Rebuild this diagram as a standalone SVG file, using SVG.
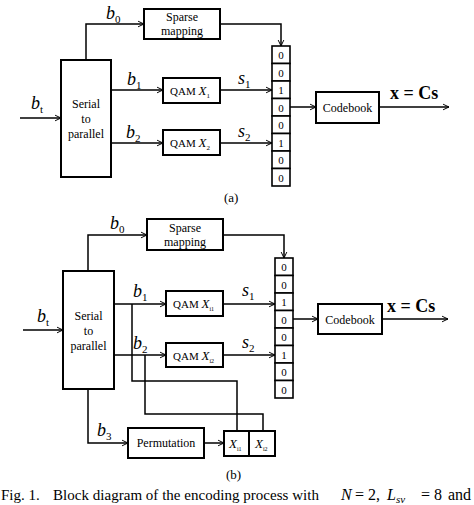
<svg xmlns="http://www.w3.org/2000/svg" width="474" height="505" viewBox="0 0 474 505">
<style>
.box{fill:#fff;stroke:#000;stroke-width:2}
.cell{fill:#fff;stroke:#000;stroke-width:1.6}
.ln{fill:none;stroke:#000;stroke-width:1.5}
.arr{marker-end:url(#ah)}
text{font-family:"Liberation Serif","Times New Roman",serif;fill:#000}
.t{font-size:12px;text-anchor:middle}
.d{font-size:11px;text-anchor:middle}
.v{font-size:18px;font-style:italic}
.sub{font-size:11px;font-style:normal}
.eq{font-size:18px;font-weight:bold}
.cap{font-size:16px}
</style>
<defs>
<marker id="ah" markerUnits="userSpaceOnUse" viewBox="0 0 10 10" refX="9.5" refY="5" markerWidth="7" markerHeight="9" orient="auto">
<path d="M1,1 L9.5,5 L1,9" fill="none" stroke="#000" stroke-width="1.4"/>
</marker>
</defs>

<!-- (a) -->
<g id="a-connectors">
<path class="ln arr" d="M20,118 H61"/>
<path class="ln arr" d="M86,60 V24 H144"/>
<path class="ln arr" d="M111,90 H163"/>
<path class="ln arr" d="M111,143 H163"/>
<path class="ln arr" d="M220,24 H281 V46"/>
<path class="ln arr" d="M220,90 H272"/>
<path class="ln arr" d="M220,143 H272"/>
<path class="ln arr" d="M290,107 H316"/>
<path class="ln arr" d="M379,107 H449"/>
</g>
<g id="a-labels">
<text class="v" x="106" y="19">b<tspan class="sub" dy="4">0</tspan></text>
<text class="v" x="31" y="109">b<tspan class="sub" dy="4">t</tspan></text>
<text class="v" x="127" y="85">b<tspan class="sub" dy="4">1</tspan></text>
<text class="v" x="126" y="138">b<tspan class="sub" dy="4">2</tspan></text>
<text class="v" x="238" y="84">s<tspan class="sub" dy="4">1</tspan></text>
<text class="v" x="238" y="137">s<tspan class="sub" dy="4">2</tspan></text>
<text class="eq" x="390" y="99">x = Cs</text>
<text x="224" y="202" style="font-size:13px">(a)</text>
</g>
<g id="a-s2p"><rect class="box" x="61" y="60" width="50" height="117"/>
<text class="t" x="86" y="108">Serial</text><text class="t" x="86" y="123">to</text><text class="t" x="86" y="138">parallel</text></g>
<g id="a-sparse"><rect class="box" x="144" y="9" width="76" height="30"/>
<text class="t" x="182" y="21">Sparse</text><text class="t" x="182" y="35">mapping</text></g>
<g id="a-qam1"><rect class="box" x="163" y="78" width="57" height="25"/>
<text x="170" y="95" style="font-size:11px">QAM <tspan style="font-style:italic;font-size:13px">X</tspan><tspan style="font-size:7px" dy="3">1</tspan></text></g>
<g id="a-qam2"><rect class="box" x="163" y="130" width="57" height="25"/>
<text x="170" y="147" style="font-size:11px">QAM <tspan style="font-style:italic;font-size:13px">X</tspan><tspan style="font-size:7px" dy="3">2</tspan></text></g>
<g id="a-vector">
<rect class="cell" x="272" y="46" width="18" height="17.5"/>
<rect class="cell" x="272" y="63.5" width="18" height="17.5"/>
<rect class="cell" x="272" y="81" width="18" height="17.5"/>
<rect class="cell" x="272" y="98.5" width="18" height="17.5"/>
<rect class="cell" x="272" y="116" width="18" height="17.5"/>
<rect class="cell" x="272" y="133.5" width="18" height="17.5"/>
<rect class="cell" x="272" y="151" width="18" height="17.5"/>
<rect class="cell" x="272" y="168.5" width="18" height="17.5"/>
<text class="d" x="281" y="59">0</text><text class="d" x="281" y="76.5">0</text><text class="d" x="281" y="94">1</text><text class="d" x="281" y="111.5">0</text>
<text class="d" x="281" y="129">0</text><text class="d" x="281" y="146.5">1</text><text class="d" x="281" y="164">0</text><text class="d" x="281" y="181.5">0</text>
</g>
<g id="a-codebook"><rect class="box" x="316" y="92" width="63" height="31"/>
<text class="t" x="347.5" y="112">Codebook</text></g>

<!-- (b) -->
<g id="b-connectors">
<path class="ln arr" d="M23,330 H63"/>
<path class="ln arr" d="M88,271 V235 H147"/>
<path class="ln arr" d="M114,304 H166"/>
<path class="ln arr" d="M114,355 H166"/>
<path class="ln arr" d="M223,235 H284 V258"/>
<path class="ln arr" d="M223,304 H275"/>
<path class="ln arr" d="M223,355 H275"/>
<path class="ln arr" d="M293,319 H318"/>
<path class="ln arr" d="M382,319 H448"/>
<path class="ln" d="M132,304 V381 H237 V431"/>
<path class="ln" d="M145,355 V414 H263 V431"/>
<path class="ln arr" d="M88,389 V443 H128"/>
<path class="ln arr" d="M204,443 H224"/>
</g>
<g id="b-labels">
<text class="v" x="110" y="229">b<tspan class="sub" dy="4">0</tspan></text>
<text class="v" x="37" y="322">b<tspan class="sub" dy="4">t</tspan></text>
<text class="v" x="133" y="297">b<tspan class="sub" dy="4">1</tspan></text>
<text class="v" x="133" y="349">b<tspan class="sub" dy="4">2</tspan></text>
<text class="v" x="97" y="436">b<tspan class="sub" dy="4">3</tspan></text>
<text class="v" x="242" y="296">s<tspan class="sub" dy="4">1</tspan></text>
<text class="v" x="242" y="348">s<tspan class="sub" dy="4">2</tspan></text>
<text class="eq" x="387" y="312">x = Cs</text>
<text x="226" y="479" style="font-size:13px">(b)</text>
</g>
<g id="b-s2p"><rect class="box" x="63" y="271" width="51" height="118"/>
<text class="t" x="88.5" y="320">Serial</text><text class="t" x="88.5" y="335">to</text><text class="t" x="88.5" y="350">parallel</text></g>
<g id="b-sparse"><rect class="box" x="147" y="219" width="76" height="31"/>
<text class="t" x="185" y="232">Sparse</text><text class="t" x="185" y="246">mapping</text></g>
<g id="b-qam1"><rect class="box" x="166" y="291" width="57" height="25"/>
<text x="173" y="308" style="font-size:11px">QAM <tspan style="font-style:italic;font-size:13px">X</tspan><tspan style="font-size:6px" dy="3">i1</tspan></text></g>
<g id="b-qam2"><rect class="box" x="166" y="343" width="57" height="24"/>
<text x="173" y="360" style="font-size:11px">QAM <tspan style="font-style:italic;font-size:13px">X</tspan><tspan style="font-size:6px" dy="3">i2</tspan></text></g>
<g id="b-vector">
<rect class="cell" x="275" y="258" width="18" height="17.5"/>
<rect class="cell" x="275" y="275.5" width="18" height="17.5"/>
<rect class="cell" x="275" y="293" width="18" height="17.5"/>
<rect class="cell" x="275" y="310.5" width="18" height="17.5"/>
<rect class="cell" x="275" y="328" width="18" height="17.5"/>
<rect class="cell" x="275" y="345.5" width="18" height="17.5"/>
<rect class="cell" x="275" y="363" width="18" height="17.5"/>
<rect class="cell" x="275" y="380.5" width="18" height="17.5"/>
<text class="d" x="284" y="271">0</text><text class="d" x="284" y="288.5">0</text><text class="d" x="284" y="306">1</text><text class="d" x="284" y="323.5">0</text>
<text class="d" x="284" y="341">0</text><text class="d" x="284" y="358.5">1</text><text class="d" x="284" y="376">0</text><text class="d" x="284" y="393.5">0</text>
</g>
<g id="b-codebook"><rect class="box" x="318" y="304" width="64" height="30"/>
<text class="t" x="350" y="324">Codebook</text></g>
<g id="b-permutation"><rect class="box" x="128" y="428" width="76" height="30"/>
<text class="t" x="166" y="447">Permutation</text></g>
<g id="b-xi1"><rect class="box" x="224" y="431" width="25" height="25"/>
<text x="229" y="448"><tspan style="font-style:italic;font-size:13px">X</tspan><tspan style="font-size:6px" dy="3">i1</tspan></text></g>
<g id="b-xi2"><rect class="box" x="249" y="431" width="26" height="25"/>
<text x="255" y="448"><tspan style="font-style:italic;font-size:13px">X</tspan><tspan style="font-size:6px" dy="3">i2</tspan></text></g>

<g id="caption">
<text class="cap" x="1" y="500" style="font-size:15px">Fig. 1.</text>
<text class="cap" x="53" y="500" style="font-size:15px" textLength="266" lengthAdjust="spacing">Block diagram of the encoding process with</text>
<text class="cap" x="341" y="500" font-style="italic">N</text>
<text class="cap" x="355" y="500">= 2,</text>
<text class="cap" x="387" y="500" font-style="italic">L<tspan font-size="11" dy="3">sv</tspan></text>
<text class="cap" x="421" y="500">= 8</text>
<text class="cap" x="448" y="500">and</text>
</g>
</svg>
